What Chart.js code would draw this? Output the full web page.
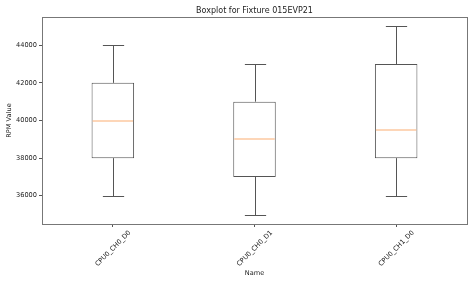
<!DOCTYPE html>
<html>
<head>
<meta charset="utf-8">
<script src="https://cdn.jsdelivr.net/npm/chart.js@4"></script>
<style>
  html, body { margin: 0; padding: 0; background: #fff; }
  #wrap { width: 474px; height: 284px; }
</style>
</head>
<body>
<div id="wrap"><canvas id="boxChart" width="474" height="284"></canvas></div>
<script>
// Boxplot for one fixture, RPM per channel

const names = ['CPU0_CH0_D0', 'CPU0_CH0_D1', 'CPU0_CH1_D0'];
const whiskerLow = [36000, 35000, 36000];
const q1 = [38000, 37000, 38000];
const medians = [40000, 39000, 39500];
const q3 = [42000, 41000, 43000];
const whiskerHigh = [44000, 43000, 45000];
const yTicks = [36000, 38000, 40000, 42000, 44000];

const lineColor = '#555';
const textColor = '#222';
const font = { family: 'DejaVu Sans', size: 6.6 };

// whiskers, caps, medians and the frame, drawn from the scales
const boxExtras = {
  id: 'boxExtras',
  afterDatasetsDraw(chart) {
    const ctx = chart.ctx;
    const y = chart.scales.y;
    const meta = chart.getDatasetMeta(0);
    ctx.save();
    ctx.lineWidth = 1;
    meta.data.forEach((bar, i) => {
      const x = Math.round(bar.x) + 0.5;
      const capHalf = bar.width / 4;
      const lowY = Math.round(y.getPixelForValue(whiskerLow[i])) + 0.5;
      const highY = Math.round(y.getPixelForValue(whiskerHigh[i])) + 0.5;
      ctx.strokeStyle = lineColor;
      ctx.beginPath();
      // lower whisker + cap
      ctx.moveTo(x, y.getPixelForValue(q1[i]));
      ctx.lineTo(x, lowY);
      ctx.moveTo(x - capHalf, lowY);
      ctx.lineTo(x + capHalf, lowY);
      // upper whisker + cap
      ctx.moveTo(x, y.getPixelForValue(q3[i]));
      ctx.lineTo(x, highY);
      ctx.moveTo(x - capHalf, highY);
      ctx.lineTo(x + capHalf, highY);
      ctx.stroke();
    });
    // medians (soft orange, like the scaled-down matplotlib line)
    ctx.strokeStyle = '#fcae72';
    ctx.lineWidth = 1.2;
    meta.data.forEach((bar, i) => {
      const my = Math.round(y.getPixelForValue(medians[i]));
      ctx.beginPath();
      ctx.moveTo(bar.x - bar.width / 2 + 1, my);
      ctx.lineTo(bar.x + bar.width / 2 - 1, my);
      ctx.stroke();
    });
    // frame around plot area
    const a = chart.chartArea;
    ctx.lineWidth = 1;
    ctx.strokeStyle = '#777';
    ctx.strokeRect(Math.round(a.left) + 0.5, Math.round(a.top) + 0.5,
      Math.round(a.right - a.left), Math.round(a.bottom - a.top));
    ctx.restore();
  }
};

const ctx = document.getElementById('boxChart').getContext('2d');
new Chart(ctx, {
  type: 'bar',
  data: {
    labels: names,
    datasets: [{
      data: names.map((n, i) => [q1[i], q3[i]]),
      backgroundColor: '#fff',
      borderColor: lineColor,
      borderWidth: 1,
      borderSkipped: false,
      categoryPercentage: 1,
      barPercentage: 0.3
    }]
  },
  plugins: [boxExtras],
  options: {
    responsive: false,
    animation: false,
    layout: { padding: { left: 0, right: 7, top: 0, bottom: 0 } },
    plugins: {
      legend: { display: false },
      tooltip: { enabled: false },
      title: {
        display: true,
        fullSize: false,
        text: 'Boxplot for Fixture 015EVP21',
        color: textColor,
        font: { family: 'DejaVu Sans', size: 8, weight: 'normal' },
        padding: { top: 6, bottom: 1.4 }
      }
    },
    scales: {
      x: {
        offset: true,
        grid: { display: true, drawOnChartArea: false, offset: false, color: lineColor, tickLength: 3 },
        border: { display: false },
        ticks: {
          color: textColor, font: font,
          minRotation: 45, maxRotation: 45,
          labelOffset: 17, padding: 2
        },
        title: {
          display: true, text: 'Name', color: textColor, font: font,
          padding: { top: 0, bottom: 7 }
        },
        afterFit(scale) { scale.height = 60; }
      },
      y: {
        min: 34500,
        max: 45500,
        grid: { display: true, drawOnChartArea: false, color: lineColor, tickLength: 3 },
        border: { display: false },
        ticks: {
          color: textColor, font: font, padding: 2,
          callback: v => String(v)
        },
        afterBuildTicks(scale) { scale.ticks = yTicks.map(v => ({ value: v })); },
        title: {
          display: true, text: 'RPM Value', color: textColor, font: font,
          padding: { top: 5, bottom: 0 }
        },
        afterFit(scale) { scale.width = 42; }
      }
    }
  }
});
</script>
</body>
</html>
